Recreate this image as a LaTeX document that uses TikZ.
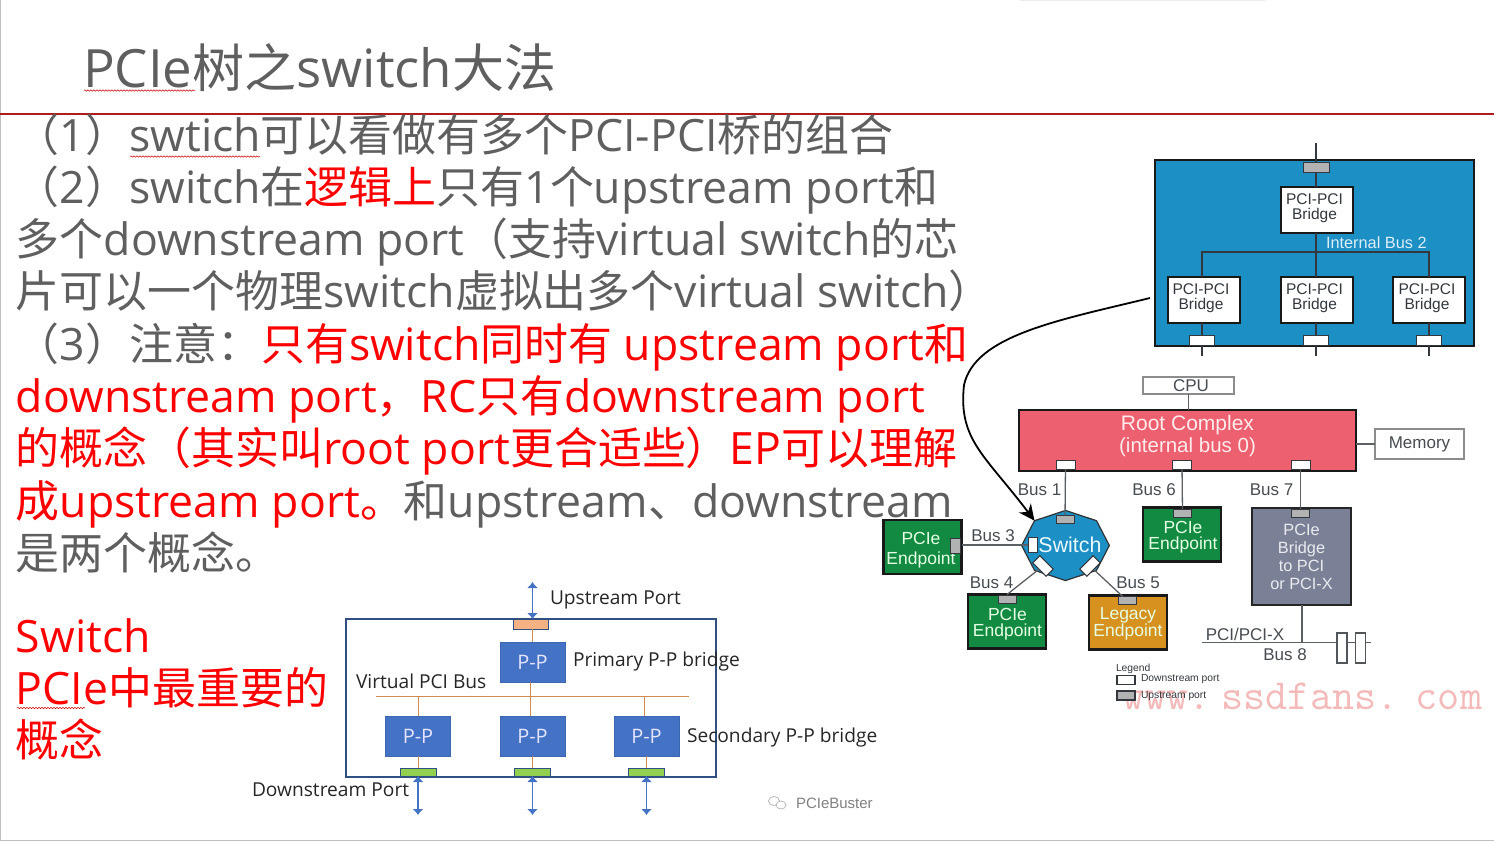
\documentclass[tikz,border=0pt]{standalone}
\usepackage{fontspec}
\usetikzlibrary{arrows.meta,shapes.geometric,decorations.pathmorphing}
\setmainfont[Scale=1.025]{Open Sans}
\newfontfamily\cjk[Scale=1.01]{Noto Sans CJK SC}
\newfontfamily\diagfont{Liberation Sans}
\newcommand{\zh}[1]{{\cjk #1}}
\newcommand{\rd}[1]{\textcolor{MyRed}{#1}}
\newcommand{\fs}[1]{\fontsize{#1}{#1}\selectfont}
\newcommand{\lw}{2pt}
\definecolor{MyRed}{RGB}{255, 0, 0}
\definecolor{MyGray}{RGB}{95, 95, 95}
\definecolor{MyRule}{RGB}{176, 28, 28}
\definecolor{MyBlue}{RGB}{28, 143, 196}
\definecolor{MyRoot}{RGB}{236, 96, 112}
\definecolor{MyGreen}{RGB}{19, 138, 66}
\definecolor{MyOrange}{RGB}{214, 145, 31}
\definecolor{MySlate}{RGB}{122, 128, 150}
\definecolor{MyDark}{RGB}{50, 56, 62}
\definecolor{MyPort}{RGB}{178, 178, 178}
\definecolor{PPBlue}{RGB}{68, 114, 196}
\definecolor{PPFrame}{RGB}{47, 80, 128}
\definecolor{PPLine}{RGB}{208, 140, 80}
\definecolor{PPUp}{RGB}{244, 177, 131}
\definecolor{PPDown}{RGB}{146, 208, 80}
\definecolor{MyMark}{RGB}{244, 186, 186}

\begin{document}
\begin{tikzpicture}[x=1pt, y=-1pt,
  every node/.style={inner sep=0pt, outer sep=0pt},
  slide/.style={anchor=base west, text=MyGray, font=\fs{43.5}},
  redslide/.style={slide, text=MyRed},
  wavy/.style={draw=red!80!black, line width=0.5pt, decorate, decoration={snake, amplitude=0.7pt, segment length=3pt}},
  diag/.style={font=\diagfont\fs{17}, text=MyDark!90},
  wbox/.style={draw=black!90, line width=\lw, fill=white, minimum width=72pt, minimum height=46pt},
  brlabel/.style={font=\diagfont\fontsize{15.5}{14.5}\selectfont, text=MyDark, align=center},
  epbox/.style={draw=black!90, line width=2.5pt, fill=MyGreen, minimum width=78pt, minimum height=54pt},
  eplabel/.style={font=\diagfont\fontsize{17.5}{15.5}\selectfont, text=white!90!green, align=center},
  dnport/.style={draw=MyDark, line width=1pt, fill=white, minimum width=25pt, minimum height=10pt},
  upport/.style={draw=MyDark, line width=1pt, fill=MyPort, minimum width=18pt, minimum height=8pt},
  wire/.style={draw=MyDark, line width=1.6pt},
  thinwire/.style={draw=MyDark!80, line width=1.3pt},
  ppbox/.style={draw=PPBlue!90!black, fill=PPBlue, text=white!90!blue, font=\fs{19.5}, minimum width=65pt, minimum height=40pt},
  ppline/.style={draw=PPLine, line width=0.9pt},
  pparrow/.style={draw=PPBlue, line width=1.2pt, {Latex[length=6pt,width=11pt]}-{Latex[length=6pt,width=11pt]}},
  pplabel/.style={font=\fs{18.7}, text=black!85, anchor=west},
]
  \useasboundingbox (0,0) rectangle (1494,841);
  % slide edges
  \draw[black!25, line width=1pt] (0.5,0) -- (0.5,840.5) -- (1494,840.5);
  \draw[black!8, line width=2pt] (1020,0) -- (1265,0);

  % title and text
  \node[slide, font=\fs{51.5}] (title) at (83,87) {PCIe\zh{树之}switch\zh{大法}};
  \coordinate (ruleL) at (0,114);
  \coordinate (ruleR) at (1494,114);
  \draw[MyRule, line width=1.6pt] (ruleL) -- (ruleR);
  \draw[wavy] (84,90.5) -- (195,90.5);
  \draw[wavy] (130,156.5) -- (260,156.5);
  \draw[wavy] (17,708) -- (85,708);

  \node[slide] (l1) at (16,151) {\zh{（}1\zh{）}swtich\zh{可以看做有多个}PCI-PCI\zh{桥的组合}};
  \node[slide] (l2) at (16,203) {\zh{（}2\zh{）}switch\zh{在}\rd{\zh{逻辑上}}\zh{只有}1\zh{个}upstream port\zh{和}};
  \node[slide] (l3) at (16,255) {\zh{多个}downstream port\zh{（支持}virtual switch\zh{的芯}};
  \node[slide] (l4) at (16,307) {\zh{片可以一个物理}switch\zh{虚拟出多个}virtual switch\zh{）}};
  \node[slide] (l5) at (16,360) {\zh{（}3\zh{）注意：}\rd{\zh{只有}switch\zh{同时有} upstream port\zh{和}}};
  \node[redslide] (l6) at (16,412) {downstream port\zh{，}RC\zh{只有}downstream port};
  \node[redslide] (l7) at (16,464) {\zh{的概念（其实叫}root port\zh{更合适些）}EP\zh{可以理解}};
  \node[slide] (l8) at (16,517) {\rd{\zh{成}upstream port\zh{。}}\zh{和}upstream\zh{、}downstream};
  \node[slide] (l9) at (16,569) {\zh{是两个概念。}};
  \node[redslide] (s1) at (16,652) {Switch};
  \node[redslide] (s2) at (16,704) {PCIe\zh{中最重要的}};
  \node[redslide] (s3) at (16,756) {\zh{概念}};

  % switch block
  \node[draw=black!90, line width=\lw, fill=MyBlue, minimum width=319pt, minimum height=186pt] (swblock) at (1314.5,253) {};
  \node[upport, minimum width=26pt, minimum height=10pt] (swup) at (1316,167) {};
  \coordinate (swtop) at (1316,143);
  \node[wbox] (brtop) at (1317,210) {};
  \node[wbox] (br1) at (1203.5,300) {};
  \node[wbox] (br2) at (1317,300) {};
  \node[wbox] (br3) at (1429,300) {};
  \node[brlabel] (brtoplabel) at (1314.5,208) {PCI-PCI\\Bridge};
  \node[brlabel] (br1label) at (1201,298) {PCI-PCI\\Bridge};
  \node[brlabel] (br2label) at (1314.5,298) {PCI-PCI\\Bridge};
  \node[brlabel] (br3label) at (1427,298) {PCI-PCI\\Bridge};
  \node[dnport] (p1) at (1202,340) {};
  \node[dnport] (p2) at (1316,340) {};
  \node[dnport] (p3) at (1429,340) {};
  \coordinate (ibus) at (1316,252);
  \coordinate (o1) at (1202,356);
  \coordinate (o2) at (1316,356);
  \coordinate (o3) at (1429,356);
  \draw[wire] (swtop) -- (swup);
  \draw[wire] (swup) -- (swup |- brtop.north);
  \draw[wire] (swup |- brtop.south) -- (swup |- br2.north);
  \draw[wire] (br1.north -| p1) |- (ibus) -| (br3.north -| p3);
  \draw[wire] (br1.south -| p1) -- (p1);
  \draw[wire] (br2.south -| p2) -- (p2);
  \draw[wire] (br3.south -| p3) -- (p3);
  \draw[wire] (p1) -- (o1);
  \draw[wire] (p2) -- (o2);
  \draw[wire] (p3) -- (o3);
  \node[font=\diagfont\fs{16.3}, text=white!85!MyBlue, anchor=west] (ibuslabel) at (1326,243) {Internal Bus 2};

  % root complex
  \node[draw=black!90, line width=2.5pt, fill=MyRoot, minimum width=337pt, minimum height=61pt] (root) at (1187.5,440.5) {};
  \node[font=\diagfont\fs{21}, text=white!92!red] (rootlabel) at (1187.5,425) {Root Complex};
  \node[font=\diagfont\fs{20.5}, text=white!92!red] (rootlabelb) at (1187.5,447) {(internal bus 0)};
  \node[draw=black!45, line width=1.3pt, fill=white, minimum width=91pt, minimum height=17pt] (cpu) at (1188.5,385.5) {};
  \node[diag] (cpulabel) at (1191,385.5) {CPU};
  \node[draw=black!45, line width=1.3pt, fill=white, diag, minimum width=89pt, minimum height=30pt] (mem) at (1419.5,444) {Memory};
  \draw[thinwire] (cpu) -- (cpu |- root.north);
  \draw[thinwire] (root.east |- mem) -- (mem);
  \node[dnport, minimum width=19pt, minimum height=9pt] (r1) at (1065.5,464.5) {};
  \node[dnport, minimum width=19pt, minimum height=9pt] (r6) at (1182,464.5) {};
  \node[dnport, minimum width=19pt, minimum height=9pt] (r7) at (1300.5,464.5) {};

  % switch and endpoints
  \node[regular polygon, regular polygon sides=8, shape border rotate=22.5, draw=black!80, line width=1.2pt, fill=MyBlue, minimum size=87.7pt, yscale=0.8] (sw) at (1065.5,545.5) {};
  \node[font=\diagfont\fs{21.4}, text=white!92!cyan] (swlabel) at (1070,545) {Switch};
  \node[upport] (swu) at (1065,519) {};
  \node[dnport, minimum width=9pt, minimum height=15pt] (swl) at (1032.5,545) {};
  \node[dnport, minimum width=19pt, minimum height=10pt, rotate=-45] (swa) at (1043,566) {};
  \node[dnport, minimum width=19pt, minimum height=10pt, rotate=45] (swb) at (1090,566) {};

  \node[epbox] (ep3) at (922.5,547) {};
  \node[eplabel, font=\diagfont\fontsize{17.5}{20}\selectfont] (ep3label) at (921,550.5) {PCIe\\Endpoint};
  \node[upport, minimum width=10pt, minimum height=15pt] (ep3p) at (955,545.5) {};
  \node[epbox] (ep4) at (1007,621.5) {};
  \node[eplabel] (ep4label) at (1007.5,624) {PCIe\\Endpoint};
  \node[upport] (ep4p) at (1007,599.5) {};
  \node[epbox, fill=MyOrange] (ep5) at (1128,622.5) {};
  \node[eplabel] (ep5label) at (1128,624) {Legacy\\Endpoint};
  \node[upport] (ep5p) at (1127,600.5) {};
  \node[epbox] (ep6) at (1182,534.5) {};
  \node[eplabel] (ep6label) at (1183,537) {PCIe\\Endpoint};
  \node[upport] (ep6p) at (1182.5,513) {};
  \node[draw=black!85, line width=2.5pt, fill=MySlate, text=white!85!MySlate, font=\diagfont\fontsize{16.3}{18}\selectfont, align=center, minimum width=99pt, minimum height=97pt] (pcibr) at (1301.5,556.5) {PCIe\\Bridge\\to PCI\\or PCI-X};
  \node[upport] (brp) at (1300.5,513) {};

  \draw[thinwire] (r1) -- (swu);
  \draw[thinwire] (r6) -- (ep6p);
  \draw[thinwire] (r7) -- (brp);
  \draw[thinwire] (ep3.east |- swl) -- (swl);
  \draw[thinwire] (swa) -- (ep4.north);
  \draw[thinwire] (swb) -- (ep5p);

  \node[diag] (bus1) at (1039.5,489.5) {Bus 1};
  \node[diag] (bus6) at (1154,489.5) {Bus 6};
  \node[diag] (bus7) at (1271.5,489.5) {Bus 7};
  \node[diag] (bus3) at (993,536) {Bus 3};
  \node[diag] (bus4) at (991.5,583) {Bus 4};
  \node[diag] (bus5) at (1138,583) {Bus 5};

  % pci bus
  \coordinate (pciL) at (1202,642.5);
  \coordinate (pciR) at (1371,642.5);
  \coordinate (pciM) at (1302,642.5);
  \draw[thinwire] (pciL) -- (pciR);
  \draw[thinwire] (pcibr.south -| pciM) -- (pciM);
  \node[draw=MyDark!85, line width=1.2pt, fill=white, minimum width=10pt, minimum height=30pt] (slot1) at (1342,648) {};
  \node[draw=MyDark!85, line width=1.2pt, fill=white, minimum width=10pt, minimum height=30pt] (slot2) at (1360.5,648) {};
  \node[diag] (pcilabel) at (1245,634) {PCI/PCI-X};
  \node[diag] (bus8) at (1285,655) {Bus 8};

  % legend
  \node[font=\ttfamily\fs{43}, text=MyMark, anchor=west] (ssd) at (1122,696) {www.\hspace{11pt}ssdfans.\hspace{17pt}com};
  \node[font=\diagfont\fs{10.3}, text=MyDark, anchor=west] (legend) at (1116,669) {Legend};
  \node[draw=MyDark, line width=1.2pt, minimum width=18pt, minimum height=9pt] (leg1) at (1126,680) {};
  \node[draw=MyDark, line width=1.2pt, fill=MyPort, minimum width=18pt, minimum height=9pt] (leg2) at (1126,695.5) {};
  \node[font=\diagfont\fs{10.3}, text=MyDark, anchor=west] (leg1label) at (1141,679) {Downstream port};
  \node[font=\diagfont\fs{10.3}, text=MyDark, anchor=west] (leg2label) at (1141,696) {Upstream port};

  % callout curve
  \coordinate (callout) at (1150,298);
  \coordinate (bend) at (964,385);
  \draw[black, line width=1.8pt, -{Stealth[length=16pt,width=15pt]}] (callout) .. controls (1060,320) and (975,335) .. (bend) .. controls (958,440) and (985,455) .. (sw.north west);

  % virtual switch picture
  \node[draw=PPFrame, line width=2pt, minimum width=370pt, minimum height=158pt] (vsw) at (530.5,697.5) {};
  \node[draw=PPFrame, line width=0.8pt, fill=PPUp, minimum width=35pt, minimum height=10pt] (vup) at (530.5,624) {};
  \node[ppbox] (pptop) at (532.5,662) {P-P};
  \node[ppbox] (pp1) at (418,736) {P-P};
  \node[ppbox] (pp2) at (532.5,736) {P-P};
  \node[ppbox] (pp3) at (646.5,736) {P-P};
  \node[draw=PPFrame, line width=0.8pt, fill=PPDown, minimum width=36pt, minimum height=8pt] (vd1) at (418,772) {};
  \node[draw=PPFrame, line width=0.8pt, fill=PPDown, minimum width=36pt, minimum height=8pt] (vd2) at (532,772) {};
  \node[draw=PPFrame, line width=0.8pt, fill=PPDown, minimum width=36pt, minimum height=8pt] (vd3) at (646.5,772) {};
  \coordinate (vbusL) at (376,696);
  \coordinate (vbusR) at (689,696);
  \draw[ppline] (vbusL) -- (vbusR);
  \draw[ppline] (pptop |- vup.south) -- (pptop);
  \draw[ppline] (530,682) -- (530,716);
  \draw[ppline] (418,696) -- (pp1);
  \draw[ppline] (644.5,696) -- (644.5,716);
  \draw[ppline] (pp1) -- (vd1);
  \draw[ppline] (pp2) -- (pp2 |- vd2.north);
  \draw[ppline] (pp3) -- (vd3);
  \coordinate (aup) at (532.5,582);
  \coordinate (a1) at (418,815);
  \coordinate (a2) at (532.5,815);
  \coordinate (a3) at (646.5,815);
  \draw[pparrow] (aup) -- (aup |- vup.north);
  \draw[pparrow] (a1) -- (a1 |- vd1.south);
  \draw[pparrow] (a2) -- (a2 |- vd2.south);
  \draw[pparrow] (a3) -- (a3 |- vd3.south);
  \node[pplabel] (uplabel) at (550,599.5) {Upstream Port};
  \node[pplabel] (primlabel) at (573,661.5) {Primary P-P bridge};
  \node[pplabel] (virtlabel) at (356,681.5) {Virtual PCI Bus};
  \node[pplabel] (seclabel) at (687,737.5) {Secondary P-P bridge};
  \node[pplabel] (downlabel) at (252,789.5) {Downstream Port};

  % wechat mark
  \node[draw=black!30, line width=0.7pt, ellipse, minimum width=11pt, minimum height=9pt] (wx1) at (774,801) {};
  \node[draw=black!30, line width=0.7pt, ellipse, minimum width=10pt, minimum height=8pt, fill=white] (wx2) at (781,805) {};
  \node[font=\diagfont\fs{15}, text=black!50, anchor=west] (wxname) at (796,803) {PCIeBuster};
\end{tikzpicture}
\end{document}
